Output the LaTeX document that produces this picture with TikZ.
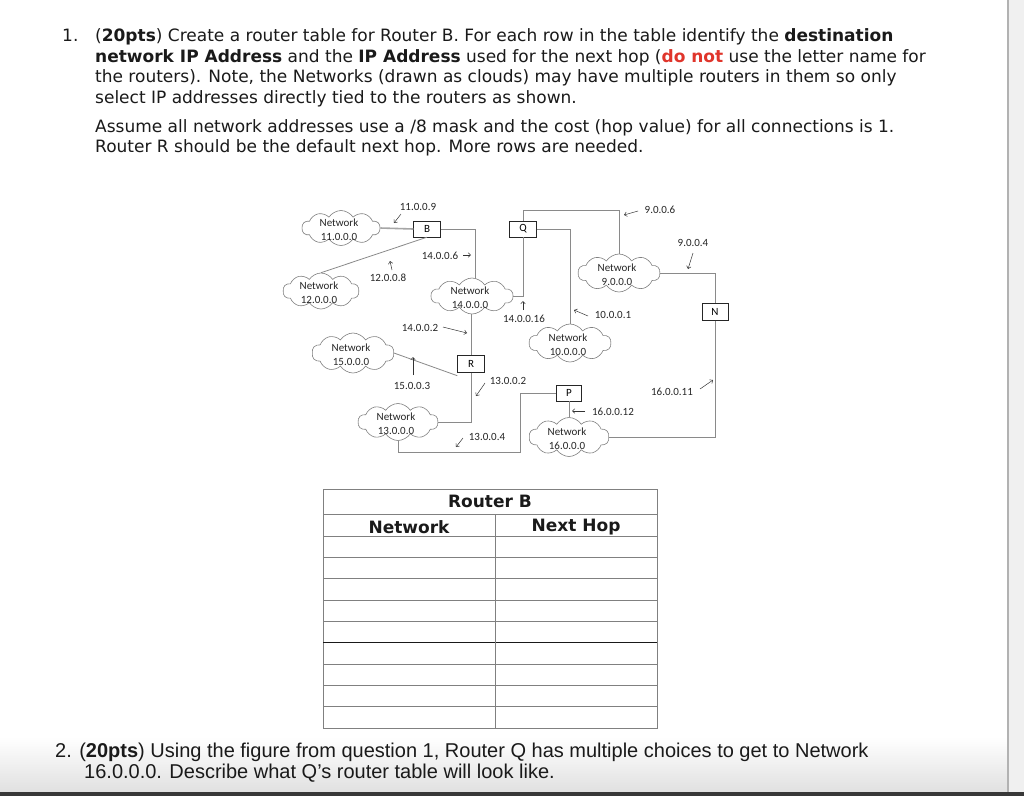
\documentclass[tikz,border=0pt]{standalone}
\usepackage{fontspec}
\setmainfont{DejaVu Sans}
\newfontfamily\diag{Carlito}
\newfontfamily\qtwo{Liberation Sans}
\usetikzlibrary{shapes.symbols,arrows.meta}
\definecolor{txt}{HTML}{1A1A1A}
\definecolor{redw}{HTML}{E0352B}
\definecolor{lnk}{HTML}{8A8A8A}
\tikzset{
  body/.style={anchor=base west, inner sep=0pt, text=txt, font=\fontsize{17}{20.7}\selectfont},
  qbody/.style={anchor=base west, inner sep=0pt, text=txt, font=\qtwo\fontsize{20}{21}\selectfont},
  router/.style={draw=black!85, fill=white, minimum width=27pt, minimum height=16pt, inner sep=0pt, font=\diag\fontsize{11}{13}\selectfont},
  netcloud/.style={shape=cloud, draw=black!50, line width=0.6pt, cloud puffs=10, cloud puff arc=115, cloud ignores aspect, minimum width=78pt, minimum height=36pt, inner sep=0pt},
  ctext/.style={font=\diag\fontsize{11}{14}\selectfont, align=center, inner sep=0pt, text=black!85, yshift=-1.5pt, xshift=-2pt},
  iplab/.style={font=\diag\fontsize{11}{13}\selectfont, inner sep=0pt, text=black!85},
  ptr/.style={-{Straight Barb[length=2.5pt,width=4.5pt]}, line width=0.5pt, black!80},
  conn/.style={draw=lnk, line width=0.8pt},
  thead/.style={font=\bfseries\fontsize{17}{20}\selectfont, inner sep=0pt, text=txt},
  tline/.style={draw=black!50, line width=0.9pt}
}
\begin{document}
\begin{tikzpicture}[x=1pt,y=-1pt]
\path[use as bounding box] (0,0) rectangle (1024,796);
\fill[white] (0,0) rectangle (1024,796);
\shade[top color=white, bottom color=black!12] (0,737) rectangle (1008,792);
\fill[black!6] (1008,0) rectangle (1024,792);
\draw[black!30, line width=1.5pt] (1008,0) -- (1008,792);
\fill[black!78] (0,792) rectangle (1024,796);

% ---------- question 1 text ----------
\node[body] (q1n) at (62,41.5) {1.};
\node[body] (q1a) at (95,41.5) {(\textbf{20pts}) Create a router table for Router B. For each row in the table identify the \textbf{destination}};
\node[body] (q1b) at (95,62.2) {\textbf{network IP Address} and the \textbf{IP Address} used for the next hop (\textcolor{redw}{\textbf{do not}} use the letter name for};
\node[body] (q1c) at (95,82.9) {the routers). Note, the Networks (drawn as clouds) may have multiple routers in them so only};
\node[body] (q1d) at (95,103.6) {select IP addresses directly tied to the routers as shown.};
\node[body] (q1e) at (95,132) {Assume all network addresses use a /8 mask and the cost (hop value) for all connections is 1.};
\node[body] (q1f) at (95,152.7) {Router R should be the default next hop. More rows are needed.};

% ---------- networks ----------
\node[netcloud, minimum width=78pt, minimum height=35pt, label={[ctext]center:Network\\11.0.0.0}] (n11) at (341,228) {};
\node[netcloud, minimum width=76pt, minimum height=36pt, label={[ctext]center:Network\\12.0.0.0}] (n12) at (321,291) {};
\node[netcloud, minimum width=82pt, minimum height=36pt, label={[ctext]center:Network\\14.0.0.0}] (n14) at (472,296) {};
\node[netcloud, minimum width=82pt, minimum height=38pt, label={[ctext]center:Network\\9.0.0.0}] (n9) at (619,273) {};
\node[netcloud, minimum width=82pt, minimum height=38pt, label={[ctext]center:Network\\10.0.0.0}] (n10) at (570,343) {};
\node[netcloud, minimum width=80pt, minimum height=39pt, label={[ctext]center:Network\\16.0.0.0}] (n16) at (569,437) {};
\node[netcloud, minimum width=80pt, minimum height=37pt, label={[ctext]center:Network\\13.0.0.0}] (n13) at (398,422) {};
\node[netcloud, minimum width=82pt, minimum height=40pt, label={[ctext]center:Network\\15.0.0.0}] (n15) at (353,353) {};

% ---------- routers ----------
\node[router] (B) at (427,229) {B};
\node[router] (Q) at (523,229) {Q};
\node[router, minimum height=17pt] (R) at (471,364) {R};
\node[router, minimum width=25pt] (P) at (569,393) {P};
\node[router, minimum width=26pt, minimum height=17pt] (N) at (715,312) {N};
\draw[black!85, line width=1.4pt] (B.north east) -- (B.south east);

% ---------- links ----------
\draw[draw=black!35, line width=1.6pt] (n11.east) -- (B.west);
\draw[conn] (B.south) -- (n12.north);
\draw[conn] (B.east) -| ([xshift=3pt]n14.north);
\draw[conn] (n14.south -| R.north) -- (R.north);
\draw[conn] (n14.east) -| (Q.south);
\coordinate (qtop) at (523,210);
\draw[conn] (Q.north) -- (qtop) -| (n9.north);
\draw[conn] (Q.east) -| (n10.north);
\draw[conn] (n9.east) -| (N.north);
\draw[conn] (N.south) |- (n16.east);
\draw[conn] (P.south) -- (n16.north);
\coordinate (pbend) at (520,452);
\draw[conn] (P.west) -| (pbend) -| (n13.south);
\draw[conn] (R.south) |- (n13.east);
\draw[conn] ([yshift=-3pt]R.south west) -- (n15.east);

% ---------- address labels ----------
\node[iplab] (ip119) at (418,207) {11.0.0.9};
\node[iplab] (ip128) at (388,278) {12.0.0.8};
\node[iplab] (ip146) at (440,256) {14.0.0.6};
\node[iplab] (ip142) at (420,328) {14.0.0.2};
\node[iplab] (ip1416) at (524,319) {14.0.0.16};
\node[iplab] (ip96) at (660,210) {9.0.0.6};
\node[iplab] (ip94) at (693,243) {9.0.0.4};
\node[iplab] (ip101) at (613,315) {10.0.0.1};
\node[iplab] (ip1611) at (672,392) {16.0.0.11};
\node[iplab] (ip1612) at (613,412) {16.0.0.12};
\node[iplab] (ip132) at (508,381) {13.0.0.2};
\node[iplab] (ip134) at (487,437) {13.0.0.4};
\node[iplab] (ip153) at (412,386) {15.0.0.3};

\coordinate (a1) at (401,214); \coordinate (b1) at (394,223);
\coordinate (a2) at (392,270); \coordinate (b2) at (390,261);
\coordinate (a3) at (463,255); \coordinate (b3) at (471,255);
\coordinate (a4) at (443,327); \coordinate (b4) at (467,333);
\coordinate (a5) at (523,310); \coordinate (b5) at (523,301);
\coordinate (a6) at (638,211); \coordinate (b6) at (624,215);
\coordinate (a7) at (693,253); \coordinate (b7) at (688,269);
\coordinate (a8) at (588,316); \coordinate (b8) at (574,310);
\coordinate (a9) at (700,389); \coordinate (b9) at (713,380);
\coordinate (a10) at (585,411); \coordinate (b10) at (572,411);
\coordinate (a11) at (485,383); \coordinate (b11) at (476,396);
\coordinate (a12) at (463,438); \coordinate (b12) at (456,447);
\coordinate (a13) at (413,375); \coordinate (b13) at (413,357);
\foreach \i in {1,...,13} {\draw[ptr] (a\i) -- (b\i);}

% ---------- table ----------
\draw[tline] (323,489) rectangle (657,728);
\draw[tline] (323,514) -- (657,514);
\foreach \yy in {536,557.3,578.7,600,621.3,664,685.3,706.7} {\draw[tline] (323,\yy) -- (657,\yy);}
\draw[draw=black!90, line width=0.9pt] (323,642.7) -- (657,642.7);
\draw[tline] (495,514) -- (495,728);
\node[thead] (th1) at (490,501) {Router B};
\node[thead] (th2) at (409,527) {Network};
\node[thead] (th3) at (576,527) {Next Hop};

% ---------- question 2 ----------
\node[qbody] (q2a) at (55,757) {2. (\textbf{20pts}) Using the figure from question 1, Router Q has multiple choices to get to Network};
\node[qbody] (q2b) at (84,778) {16.0.0.0. Describe what Q’s router table will look like.};
\end{tikzpicture}
\end{document}
